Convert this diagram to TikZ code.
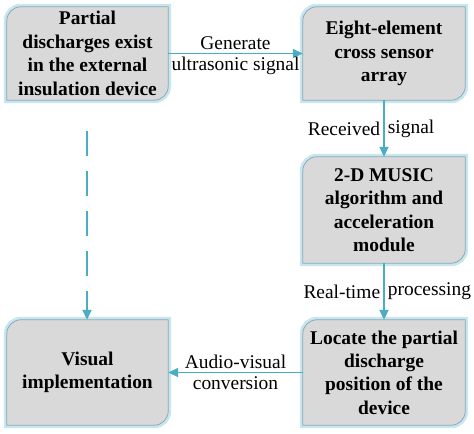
\documentclass[tikz,border=0pt]{standalone}
\usepackage{fontspec}
\setmainfont{Liberation Serif}
\usetikzlibrary{arrows.meta,backgrounds}
\definecolor{flow}{HTML}{4BACC6}
\definecolor{boxfill}{HTML}{D9D9D9}
\definecolor{boxline}{HTML}{8FA6B4}
\definecolor{glow}{HTML}{C6E6F0}
\begin{document}
\begin{tikzpicture}[x=1bp,y=1bp,>={Triangle[length=10bp,width=9bp]},
 box/.style={rectangle,align=center,inner sep=0pt,font=\bfseries\fontsize{19.5}{23.5}\selectfont},
 lbl/.style={font=\fontsize{19.5}{23.5}\selectfont,inner sep=3bp},
 flowline/.style={draw=flow,line width=1.8bp},
 halo/.style={draw=glow,line width=6bp},
 frame/.style={fill=boxfill,draw=boxline,line width=0.8bp}]
\def\r{14bp}
\def\frm#1{
\foreach \st in {halo,frame}{
\path[\st] ([yshift=-\r]#1.north west) arc[start angle=180,end angle=90,radius=\r]
 -- (#1.north east) -- ([yshift=\r]#1.south east) arc[start angle=0,end angle=-90,radius=\r]
 -- (#1.south west) -- cycle;
}
}
\useasboundingbox (0,0) rectangle (474,-434);
\node[box,minimum width=161bp,minimum height=93bp] (pd) at (87.5,-53.5)
 {Partial\\discharges exist\\in the external\\insulation device};
\node[box,minimum width=162bp,minimum height=93bp] (arr) at (384,-53.5)
 {Eight-element\\cross sensor\\array};
\node[box,minimum width=162bp,minimum height=106bp] (music) at (384,-210)
 {2-D MUSIC\\algorithm and\\acceleration\\module};
\node[box,minimum width=162bp,minimum height=105bp] (loc) at (384,-372.5)
 {Locate the partial\\discharge\\position of the\\device};
\node[box,minimum width=161bp,minimum height=105bp] (vis) at (87.5,-372.5)
 {Visual\\implementation};
\begin{scope}[on background layer]
\foreach \b in {pd,arr,music,loc,vis}{\frm{\b}}
\end{scope}
\coordinate (dtop) at (87,-131);
\draw[flowline,->] (pd) -- node[lbl,above]{Generate} node[lbl,below]{ultrasonic signal} (arr);
\draw[flowline,->] (arr) -- node[lbl,left]{Received} node[lbl,right]{signal} (music);
\draw[flowline,->] (music) -- node[lbl,left]{Real-time} node[lbl,right]{processing} (loc);
\draw[flowline,->] (loc) -- node[lbl,above]{Audio-visual} node[lbl,below]{conversion} (vis);
\draw[flowline,->,dash pattern=on 25bp off 15bp] (dtop) -- (vis.north -| dtop);
\end{tikzpicture}
\end{document}
